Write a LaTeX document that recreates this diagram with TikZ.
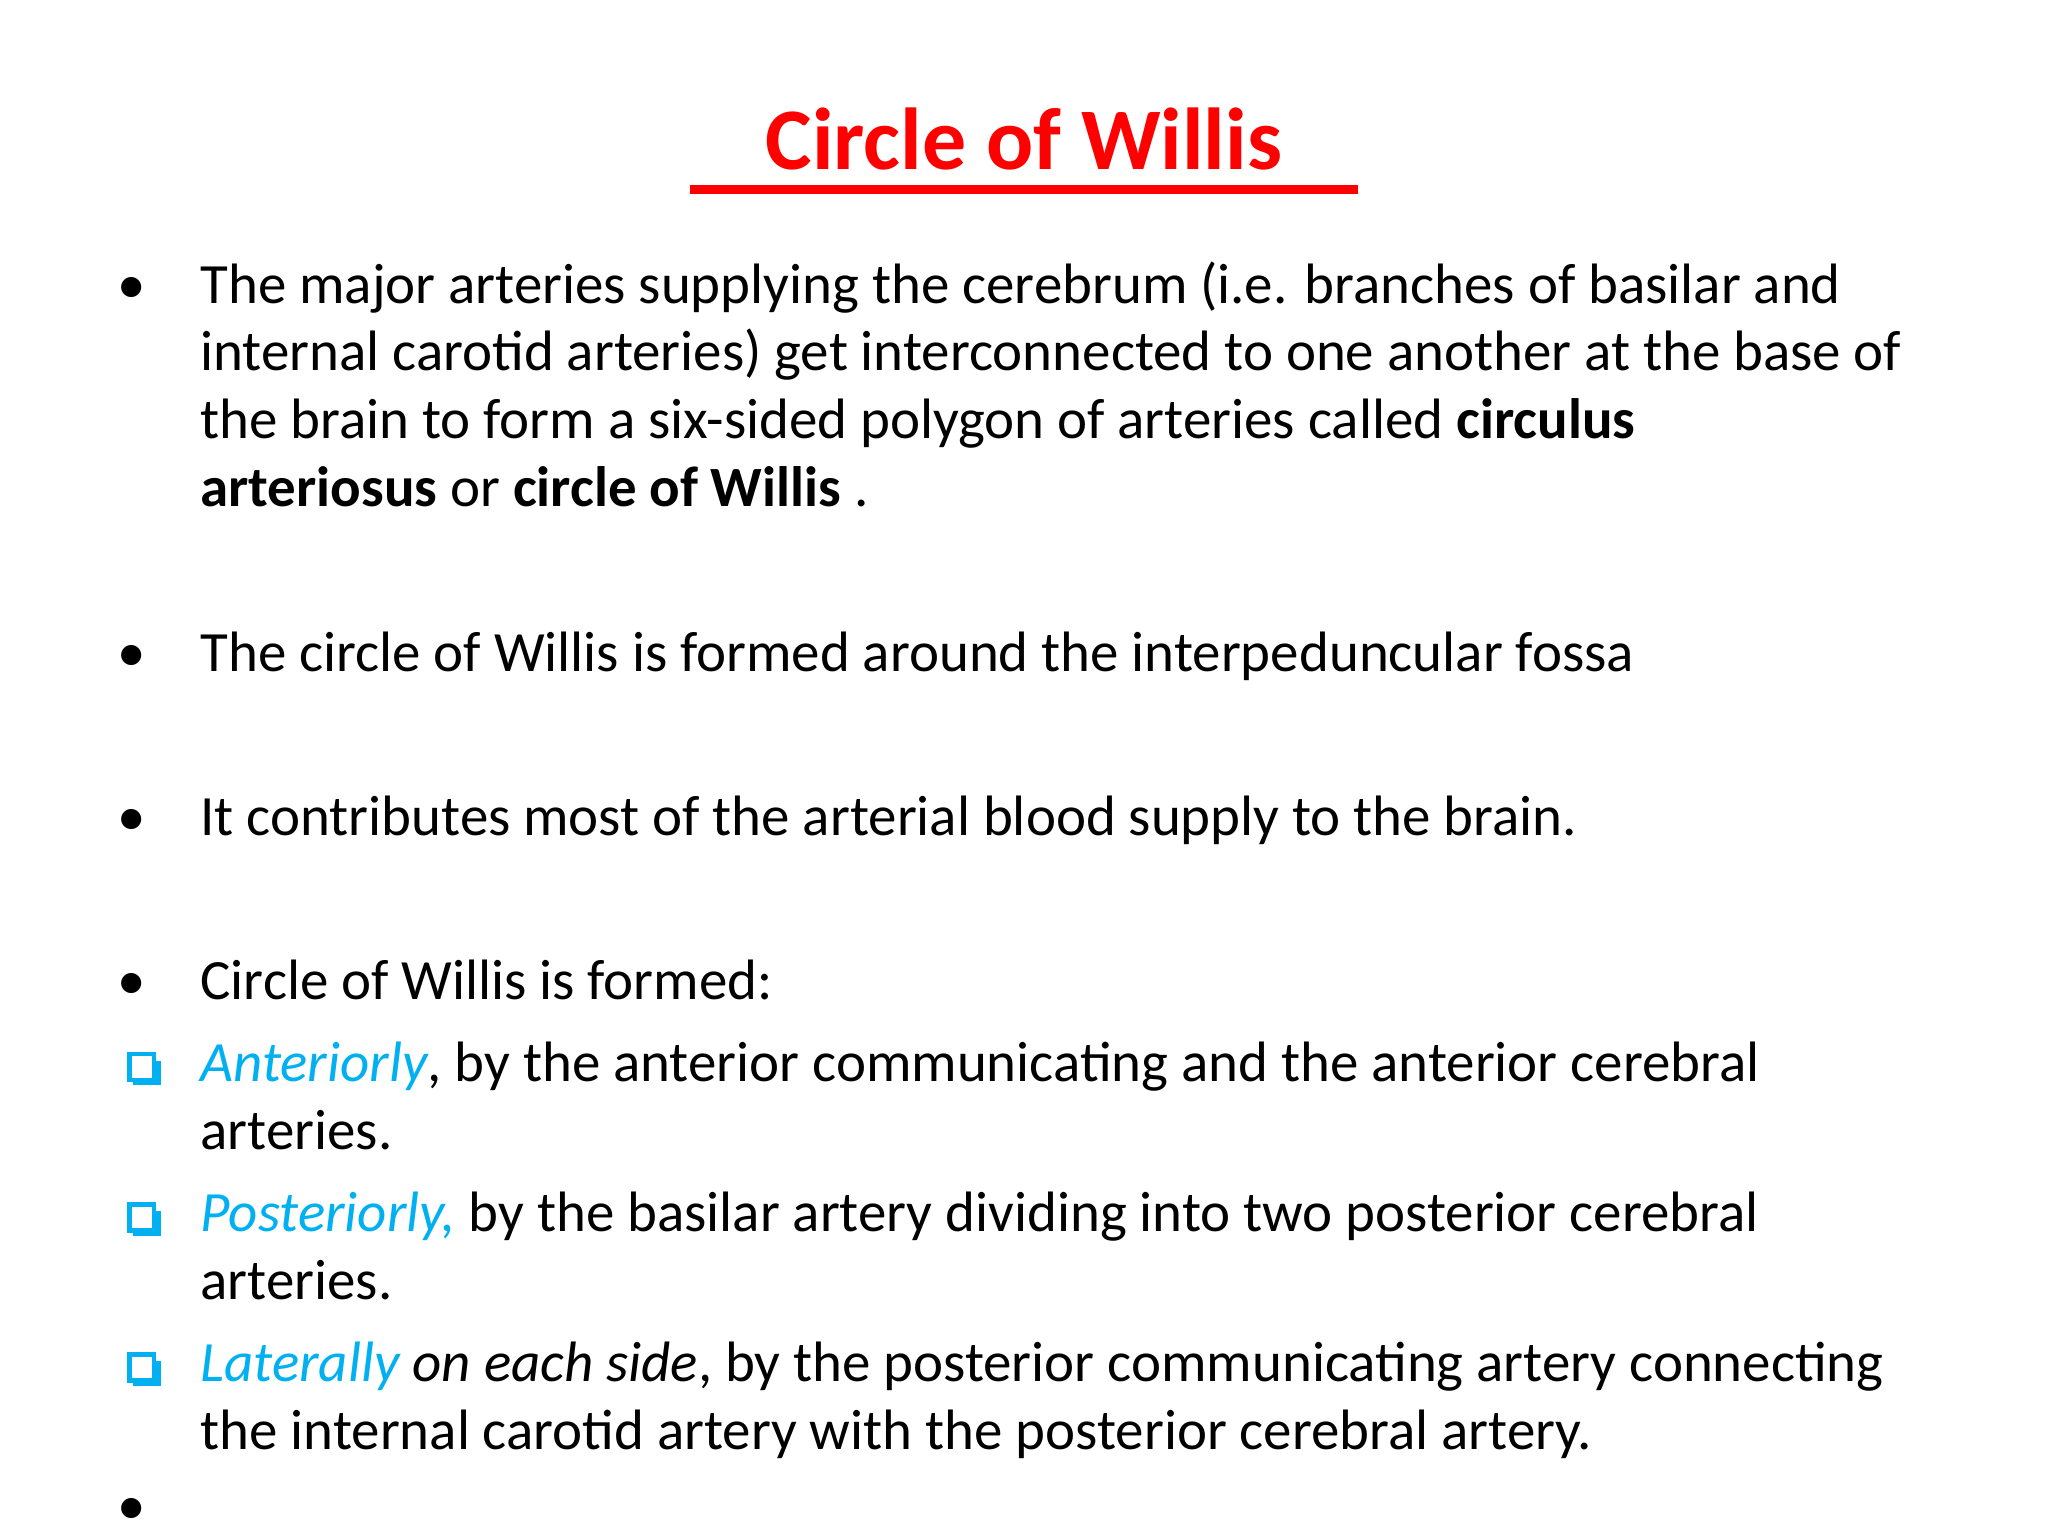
\documentclass[tikz,border=0pt]{standalone}
\usepackage{fontspec}
\setmainfont{Carlito}
\definecolor{lblue}{RGB}{0,176,240}
\definecolor{tred}{RGB}{255,0,0}
\begin{document}
\begin{tikzpicture}[x=0.01306cm,y=-0.01306cm,
  txt/.style={anchor=base west,inner sep=0pt,font=\fontsize{16.2}{19}\selectfont},
  bul/.style={anchor=base,inner sep=0pt,font=\fontsize{16.2}{19}\selectfont},
  qbox/.pic={\fill[lblue] (-9,-2) rectangle (12,3); \fill[lblue] (6,-16) rectangle (12,3);
    \draw[lblue,line width=1.3pt,fill=white] (-12,-21) rectangle (7,-1);}]
\useasboundingbox (0,0) rectangle (1568,1176);
\node[anchor=base,inner sep=0pt,text=tred,font=\fontsize{25}{30}\bfseries] (title) at (784,130) {Circle of Willis};
\draw[tred,line width=2.4pt] (528,145) -- (1040,145);
\node[bul] (b1) at (101,232) {•};
\node[txt] (l1) at (153,232) {The major arteries supplying the cerebrum (i.e. branches of basilar and};
\node[txt] (l2) at (153,284) {internal carotid arteries) get interconnected to one another at the base of};
\node[txt] (l3) at (153,336) {the brain to form a six-sided polygon of arteries called \textbf{circulus}};
\node[txt] (l4) at (153,388) {\textbf{arteriosus} or \textbf{circle of Willis} .};
\node[bul] (b2) at (101,514) {•};
\node[txt] (l5) at (153,514) {The circle of Willis is formed around the interpeduncular fossa};
\node[bul] (b3) at (101,640) {•};
\node[txt] (l6) at (153,640) {It contributes most of the arterial blood supply to the brain.};
\node[bul] (b4) at (101,765) {•};
\node[txt] (l7) at (153,765) {Circle of Willis is formed:};
\pic at (111,828) {qbox};
\node[txt] (l8) at (153,828) {\textcolor{lblue}{\itshape Anteriorly}, by the anterior communicating and the anterior cerebral};
\node[txt] (l9) at (153,880) {arteries.};
\pic at (111,943) {qbox};
\node[txt] (l10) at (153,943) {\textcolor{lblue}{\itshape Posteriorly,} by the basilar artery dividing into two posterior cerebral};
\node[txt] (l11) at (153,995) {arteries.};
\pic at (111,1058) {qbox};
\node[txt] (l12) at (153,1058) {\textcolor{lblue}{\itshape Laterally} \textit{on each side}, by the posterior communicating artery connecting};
\node[txt] (l13) at (153,1110) {the internal carotid artery with the posterior cerebral artery.};
\node[bul] (b5) at (101,1167) {•};
\end{tikzpicture}
\end{document}
